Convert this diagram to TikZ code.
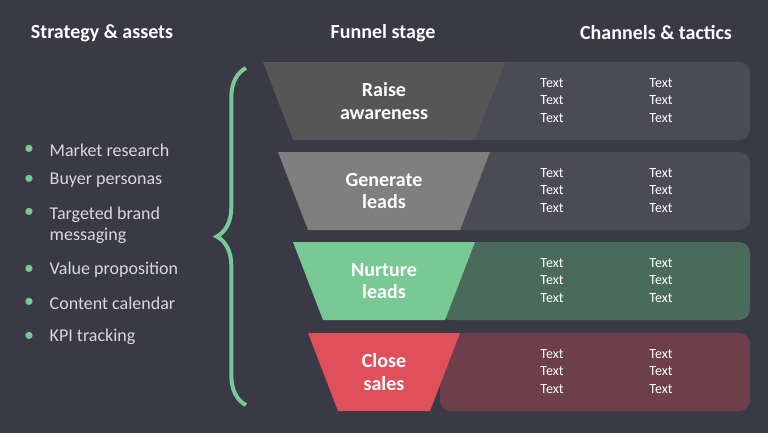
\documentclass[tikz,border=0pt]{standalone}
\usepackage{fontspec}
\setmainfont{Carlito}
\usetikzlibrary{positioning,decorations.pathreplacing,calc}
\definecolor{bg1}{HTML}{3A3A47}
\definecolor{bar1}{HTML}{4B4B55}
\definecolor{bar3}{HTML}{4A6B5C}
\definecolor{bar4}{HTML}{6C3F4B}
\definecolor{grey1}{HTML}{565656}
\definecolor{grey2}{HTML}{7F7F7F}
\definecolor{green1}{HTML}{78C994}
\definecolor{red1}{HTML}{E0505B}
\definecolor{text1}{HTML}{D9D9D9}
\begin{document}
\begin{tikzpicture}[x=0.75pt,y=-0.75pt,
    head/.style={font=\bfseries\fontsize{15}{17}\selectfont, text=white},
    stage/.style={font=\bfseries\fontsize{15}{17}\selectfont, text=white, align=center},
    small/.style={font=\fontsize{10.5}{12}\selectfont, text=white},
    item/.style={font=\fontsize{13.5}{16}\selectfont, text=text1, anchor=west, align=left},
]
\fill[bg1] (0,0) rectangle (768,433);
\useasboundingbox (0,0) rectangle (768,433);

% headers
\node[head] (hstrat) at (102,33) {Strategy \& assets};
\node[head] (hfunnel) at (383,33) {Funnel stage};
\node[head] (hchan) at (656,33) {Channels \& tactics};

% rows: top y, trapezium top-left, top-right, fill, bar colour, name, label
\foreach \y/\l/\r/\tc/\bc/\nm/\lab in {
    62/263/505/grey1/bar1/raise/{Raise\\awareness},
    152/278/490/grey2/bar1/gen/{Generate\\leads},
    242/293/475/green1/bar3/nurt/{Nurture\\leads},
    333/308/460/red1/bar4/close/{Close\\sales}}{
  \fill[\bc, rounded corners=8pt] (440,\y) rectangle (750,\y+78);
  \fill[\tc] (\l,\y) -- (\r,\y) -- (\r-30,\y+78) -- (\l+30,\y+78) -- cycle;
  \node[stage] (\nm) at ({(\l+\r)/2},\y+39) {\lab};
  \foreach \cx in {552,661}
    \foreach \dy in {21,38,56}
      \node[small] at (\cx,\y+\dy) {Text};
}

% brace
\draw[green1, line width=3pt, decorate,
      decoration={brace, amplitude=22pt, aspect=0.5}]
  (246,405) -- (246,68);

% bullets
\foreach \yy/\txt in {150/{Market research},180/{Buyer personas},
    225/{Targeted brand\\messaging},270/{Value proposition},
    303/{Content calendar},337/{KPI tracking}}{
  \node[text=green1, font=\fontsize{15}{15}\selectfont] at (29,{\yy-(\yy==225)*12}) {•};
  \node[item] at (45,\yy) {\txt};
}
\end{tikzpicture}
\end{document}
